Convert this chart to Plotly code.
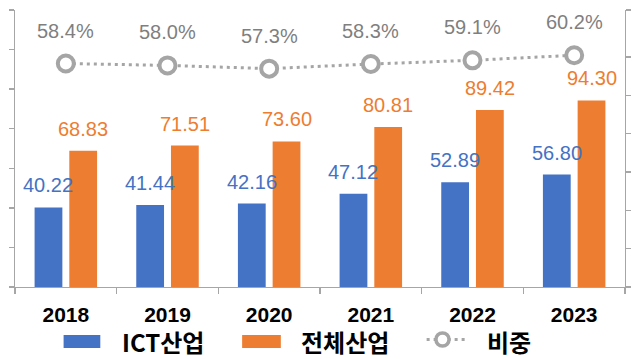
import plotly.graph_objects as go

# ---- data ----
years = ["2018", "2019", "2020", "2021", "2022", "2023"]
ict_values = [40.22, 41.44, 42.16, 47.12, 52.89, 56.80]
total_values = [68.83, 71.51, 73.60, 80.81, 89.42, 94.30]
share_values = [58.4, 58.0, 57.3, 58.3, 59.1, 60.2]
series_names = ["ICT산업", "전체산업", "비중"]
right_tickvals = [10, 18.3, 26.6, 34.9, 43.2, 51.5, 59.8, 70]

# ---- style ----
BLUE = "#4472C4"
ORANGE = "#ED7D31"
GRAY = "#A5A5A5"
LABEL_GRAY = "#7F7F7F"
AXIS = "#A6A6A6"
NUM_FONT = "Liberation Sans, Arial, sans-serif"
KR_FONT = "Noto Sans CJK KR, sans-serif"

W, H = 640, 359
L, R, T, B = 14, 11, 10, 72
PW, PH = W - L - R, H - T - B


def px(x):
    return (x - L) / PW


def py(y):
    return (H - B - y) / PH


fig = go.Figure()
fig.add_bar(x=years, y=ict_values, name=series_names[0], marker_color=BLUE,
            marker_line_width=0, showlegend=False)
fig.add_bar(x=years, y=total_values, name=series_names[1], marker_color=ORANGE,
            marker_line_width=0, showlegend=False)
fig.add_scatter(x=years, y=share_values, name=series_names[2], yaxis="y2",
                mode="lines+markers", showlegend=False,
                line=dict(color=GRAY, width=3, dash="3px,4px"),
                marker=dict(symbol="circle", size=16, color="white",
                            line=dict(color=GRAY, width=4)))

annotations = []
slot_shift = 17.5
# category positions on the category axis (index of each year)
cat_pos = list(range(len(years)))
for i, v in zip(cat_pos, ict_values):
    annotations.append(dict(x=i, y=v, xref="x", yref="y", text=f"{v:.2f}",
                            showarrow=False, xshift=-slot_shift, yshift=22,
                            yanchor="middle",
                            font=dict(family=NUM_FONT, size=20, color=BLUE)))
for i, v in zip(cat_pos, total_values):
    annotations.append(dict(x=i, y=v, xref="x", yref="y", text=f"{v:.2f}",
                            showarrow=False, xshift=slot_shift, yshift=22,
                            yanchor="middle",
                            font=dict(family=NUM_FONT, size=20, color=ORANGE)))
for i, v in zip(cat_pos, share_values):
    annotations.append(dict(x=i, y=v, xref="x", yref="y2", text=f"{v:.1f}%",
                            showarrow=False, yshift=33, yanchor="middle",
                            font=dict(family=NUM_FONT, size=20, color=LABEL_GRAY)))

# ---- manual legend ----
leg_y = 341
shapes = [
    dict(type="rect", xref="paper", yref="paper", x0=px(63), x1=px(100),
         y0=py(348), y1=py(335), fillcolor=BLUE, line_width=0),
    dict(type="rect", xref="paper", yref="paper", x0=px(243), x1=px(282),
         y0=py(348), y1=py(335), fillcolor=ORANGE, line_width=0),
    dict(type="line", xref="paper", yref="paper", x0=px(429), x1=px(469),
         y0=py(339.5), y1=py(339.5), line=dict(color=GRAY, width=3, dash="3px,4px")),
    dict(type="circle", xref="paper", yref="paper", x0=px(445 - 6.6), x1=px(445 + 6.6),
         y0=py(339.5 + 6.6), y1=py(339.5 - 6.6), fillcolor="white",
         line=dict(color=GRAY, width=3.5)),
]
for name, lx in zip(series_names, [120, 300, 488]):
    annotations.append(dict(x=px(lx), y=py(leg_y), xref="paper", yref="paper",
                            text=f"<b>{name}</b>", showarrow=False,
                            xanchor="left", yanchor="middle",
                            font=dict(family=KR_FONT, size=24, color="black")))

fig.update_layout(
    width=W, height=H,
    margin=dict(l=L, r=R, t=T, b=B, pad=0),
    paper_bgcolor="white", plot_bgcolor="white",
    barmode="group", bargap=0.317, bargroupgap=0.2,
    showlegend=False,
    annotations=annotations, shapes=shapes,
    xaxis=dict(type="category", range=[-0.5, len(years) - 0.5],
               showline=True, linecolor=AXIS, linewidth=1.3,
               ticks="outside", ticklen=6, tickcolor=AXIS, tickwidth=1.3,
               tickson="boundaries", showgrid=False, ticklabelstandoff=8,
               tickfont=dict(family=NUM_FONT, size=21, color="black", weight="bold")),
    yaxis=dict(range=[0, 140], dtick=20, showline=True, linecolor=AXIS, linewidth=1.3,
               ticks="outside", ticklen=5, tickcolor=AXIS, tickwidth=1.3,
               showticklabels=False, showgrid=False, zeroline=False),
    yaxis2=dict(range=[10, 70], overlaying="y", side="right", tickmode="array",
                tickvals=right_tickvals, showline=True, linecolor=AXIS, linewidth=1.3,
                ticks="outside", ticklen=5, tickcolor=AXIS, tickwidth=1.3,
                showticklabels=False, showgrid=False, zeroline=False),
)

fig.write_html("out.html",
               config={"displayModeBar": False, "staticPlot": True},
               post_script="document.body.style.margin='0px';"
                           "document.body.style.overflow='hidden';")
